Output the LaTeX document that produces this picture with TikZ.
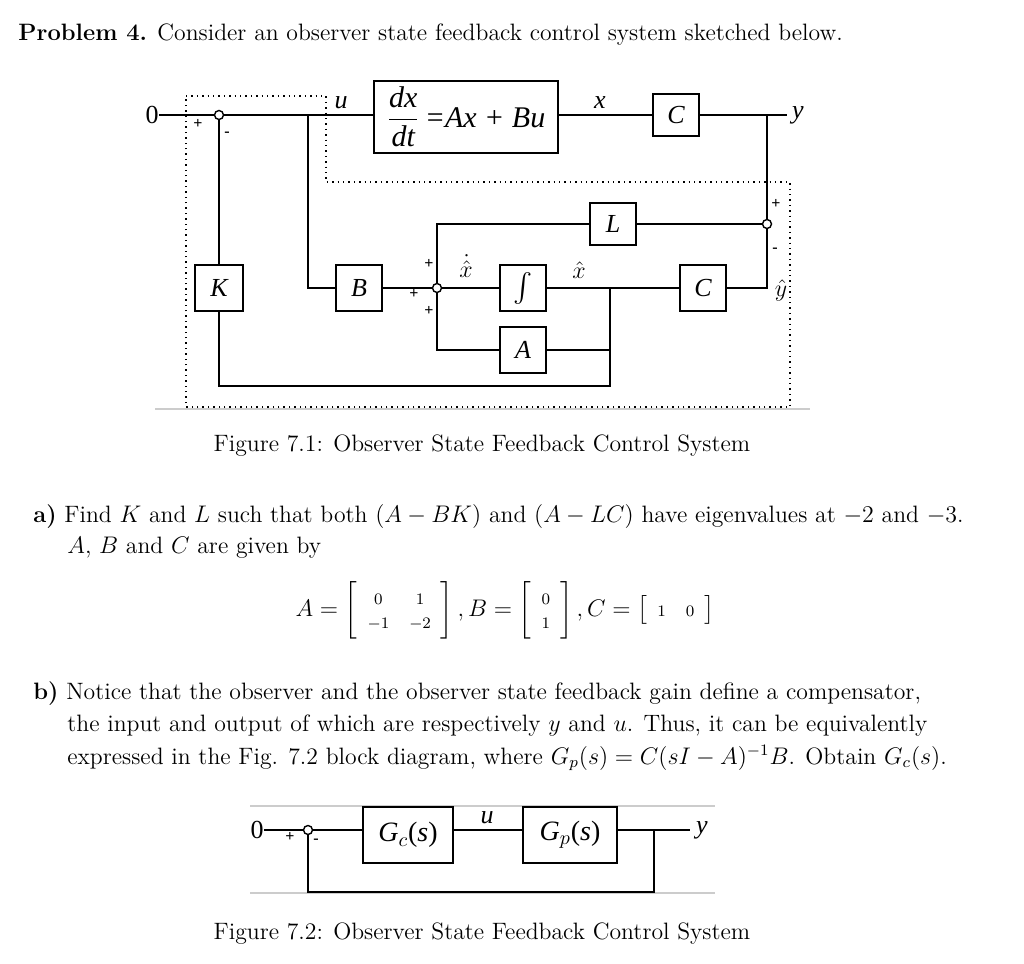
\documentclass[tikz,border=0pt]{standalone}
\usepackage{amsmath}
\usepackage{fontspec}
\newfontfamily\dg{Liberation Serif}
\begin{document}
\begin{tikzpicture}[x=0.5pt,y=-0.5pt,
  blk/.style={draw,line width=0.7pt,minimum width=23pt,minimum height=23pt,inner sep=0pt,font=\dg\fontsize{13}{15}\selectfont},
  sm/.style={draw,circle,line width=0.7pt,minimum size=4.5pt,inner sep=0pt},
  ln/.style={line width=0.6pt},
  lab/.style={font=\dg\fontsize{13}{15}\selectfont\itshape,inner sep=0pt},
  pm/.style={font=\dg\fontsize{8}{9}\selectfont\bfseries,inner sep=0pt},
  txt/.style={anchor=west,inner sep=0pt,font=\fontsize{11.85}{15}\selectfont},
  capt/.style={inner sep=0pt,font=\fontsize{11.85}{15}\selectfont}]
\useasboundingbox (0,0) rectangle (1024,964);
% text
\node[txt] (t1) at (18,35) {\textbf{Problem 4.} Consider an observer state feedback control system sketched below.};
\node[capt] (c1) at (482,446) {Figure 7.1: Observer State Feedback Control System};
\node[txt] (a1) at (33,516) {\textbf{a)} Find $K$ and $L$ such that both $(A-BK)$ and $(A-LC)$ have eigenvalues at $-2$ and $-3$.};
\node[txt] (a2) at (67,548) {$A$, $B$ and $C$ are given by};
\node[capt] (mx) at (505,610) {$A=\left[\begin{array}{cc}\scriptstyle 0&\scriptstyle 1\\[-3pt] \scriptstyle -1&\scriptstyle -2\end{array}\right],B=\left[\begin{array}{c}\scriptstyle 0\\[-3pt] \scriptstyle 1\end{array}\right],C=\left[\begin{array}{cc}\scriptstyle 1&\scriptstyle 0\end{array}\right]$};
\node[txt] (b1) at (33,694) {\textbf{b)} Notice that the observer and the observer state feedback gain define a compensator,};
\node[txt] (b2) at (67,726) {the input and output of which are respectively $y$ and $u$. Thus, it can be equivalently};
\node[txt] (b3) at (67,758) {expressed in the Fig. 7.2 block diagram, where $G_p(s)=C(sI-A)^{-1}B$. Obtain $G_c(s)$.};
\node[capt] (c2) at (482,934) {Figure 7.2: Observer State Feedback Control System};
% dotted frame and rules
\draw[dotted,line width=0.7pt] (186,96) -- (326,96) -- (326,182) -- (790,182) -- (790,407) -- (186,407) -- cycle;
\draw[gray!40,line width=0.6pt] (155,409) -- (810,409);
\draw[gray!40,line width=0.6pt] (250,806) -- (715,806);
\draw[gray!40,line width=0.6pt] (250,893) -- (715,893);
% top diagram nodes
\node[lab,font=\dg\fontsize{13}{15}\selectfont] (zero) at (152,115) {0};
\node[sm] (s1) at (219,115) {};
\node[sm] (s2) at (767,224) {};
\node[sm] (s3) at (437,288) {};
\node[blk,minimum width=24pt] (K) at (219,288) {\itshape K};
\node[blk] (B) at (359,288) {\itshape B};
\node[blk,font=\fontsize{15}{17}\selectfont] (I) at (523,288) {$\int$};
\node[blk] (A) at (523,350) {\itshape A};
\node[blk] (C2) at (703,288) {\itshape C};
\node[blk,minimum height=21pt] (L) at (613,224) {\itshape L};
\node[blk,minimum height=21pt] (C1) at (676,115) {\itshape C};
\node[blk,minimum width=92pt,minimum height=36pt,font=\dg\fontsize{15}{17}\selectfont\itshape] (P) at (466,117) {$\dfrac{\text{\dg\itshape dx}}{\text{\dg\itshape dt}}$\,=\textit{Ax} + \textit{Bu}};
\coordinate (j1) at (308,115);
\coordinate (j2) at (610,288);
\coordinate (j3) at (767,115);
\coordinate (yo) at (787,115);
\coordinate (j4) at (767,288);
\coordinate (j5) at (610,350);
\coordinate (j6) at (610,386);
\draw[ln] (zero.east) -- (s1.west);
\draw[ln] (s1.east) -- (s1 -| P.west);
\draw[ln] (j1) |- (B.west);
\draw[ln] (s1.south) -- (K.north);
\draw[ln] (K.south) |- (j6) -- (j2);
\draw[ln] (B.east) -- (s3.west);
\draw[ln] (s3.east) -- (I.west);
\draw[ln] (I.east) -- (C2.west);
\draw[ln] (C2.east) -- (j4) -- (s2.south);
\draw[ln] (s3.south) |- (A.west);
\draw[ln] (A.east) -- (j5);
\draw[ln] (C1.west -| P.east) -- (C1.west);
\draw[ln] (C1.east) -- (yo);
\draw[ln] (j3) -- (s2.north);
\draw[ln] (s2.west) -- (L.east);
\draw[ln] (L.west) -| (s3.north);
\node[lab] (lu) at (341,103) {u};
\node[lab] (lx) at (600,103) {x};
\node[lab] (ly) at (798,115) {y};
\node[lab] (lxd) at (466,266) {$\dot{\hat{x}}$};
\node[lab] (lxh) at (579,270) {$\hat{x}$};
\node[lab] (lyh) at (781,290) {$\hat{y}$};
\node[pm] at (198,124) {+};
\node[pm] at (227,134) {-};
\node[pm] at (776,204) {+};
\node[pm] at (775,250) {-};
\node[pm] at (429,264) {+};
\node[pm] at (414,294) {+};
\node[pm] at (429,311) {+};
% bottom diagram
\node[lab,font=\dg\fontsize{13}{15}\selectfont] (z2) at (257,830) {0};
\node[sm] (sb) at (308,830) {};
\node[blk,minimum width=45pt,minimum height=28pt,font=\dg\fontsize{14}{16}\selectfont] (Gc) at (408,835) {\textit{G}$_c$(\textit{s})};
\node[blk,minimum width=47pt,minimum height=28pt,font=\dg\fontsize{14}{16}\selectfont] (Gp) at (570,835) {\textit{G}$_p$(\textit{s})};
\coordinate (k1) at (654,830);
\coordinate (k2) at (690,830);
\coordinate (k3) at (654,892);
\node[lab] (ub) at (487,818) {u};
\node[lab] (yb) at (702,830) {y};
\draw[ln] (z2.east) -- (sb.west);
\draw[ln] (sb.east) -- (sb -| Gc.west);
\draw[ln] (sb -| Gc.east) -- (sb -| Gp.west);
\draw[ln] (sb -| Gp.east) -- (k2);
\draw[ln] (k1) -- (k3) -| (sb.south);
\node[pm] at (290,837) {+};
\node[pm] at (316,841) {-};
\end{tikzpicture}
\end{document}
